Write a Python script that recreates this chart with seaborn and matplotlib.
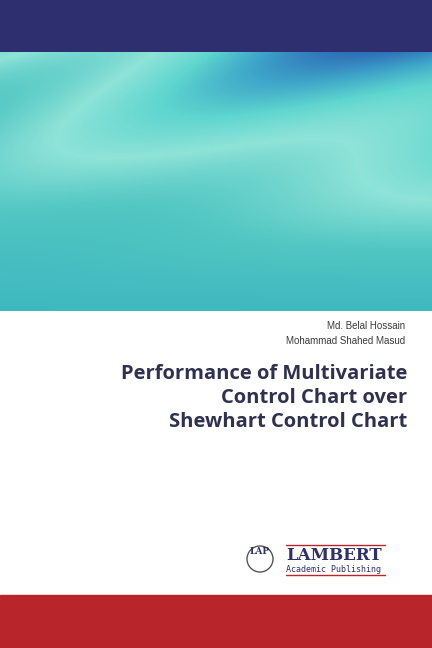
import matplotlib
matplotlib.use('Agg')
import matplotlib.pyplot as plt
import numpy as np
import seaborn as sns
from matplotlib.colors import LinearSegmentedColormap

sns.set_theme(style="white")
plt.rcParams['font.family'] = ['DejaVu Sans']

# cover content
authors = ['Md. Belal Hossain', 'Mohammad Shahed Masud']
title_lines = ['Performance of Multivariate', 'Control Chart over', 'Shewhart Control Chart']
band_colors = {'top': '#2d2f6e', 'bottom': '#b8262b', 'title': '#2e3152'}
water_colors = ['#2f6fb8', '#3fa7c9', '#5fd6cf', '#8fe3d8', '#52c7c3', '#3fb8bf']

fig = plt.figure(figsize=(4.32, 6.48), dpi=100)
ax = fig.add_axes([0, 0, 1, 1])
ax.set_xlim(0, 432)
ax.set_ylim(648, 0)
ax.axis('off')

# bands
ax.add_patch(plt.Rectangle((0, 0), 432, 52, color=band_colors['top']))
ax.add_patch(plt.Rectangle((0, 595), 432, 53, color=band_colors['bottom']))

# water picture
cmap = LinearSegmentedColormap.from_list('water', water_colors)
yy, xx = np.mgrid[0:1:260j, 0:1:432j]
field = 0.55 * yy + 0.25 * (1 - xx) * (1 - yy) + 0.15 * np.sin(6 * xx + 9 * yy) * (1 - yy) ** 2
field = (field - field.min()) / (field.max() - field.min())
ax.imshow(field, cmap=cmap, extent=(0, 432, 311, 52), aspect='auto', zorder=1)

# authors
for i, a in enumerate(authors):
    ax.text(405, 326 + i * 15, a, ha='right', va='center', fontsize=7, color='#3a3a3a',
            family='Liberation Sans')

# title
for i, line in enumerate(title_lines):
    ax.text(407, 374 + i * 24, line, ha='right', va='center', fontsize=14.5,
            fontweight='bold', color=band_colors['title'], family='Open Sans')

# publisher logo
navy = '#2d2f6e'
ax.add_patch(plt.Circle((260, 559), 13, facecolor='white', edgecolor='#555555', lw=1))
ax.text(260, 551, 'LAP', ha='center', va='center', fontsize=6.5, fontweight='bold',
        color=navy, family='DejaVu Serif')
ax.plot([286, 385], [545, 545], color='#b8262b', lw=1)
ax.plot([286, 385], [575, 575], color='#b8262b', lw=1)
ax.text(286, 555, 'LAMBERT', ha='left', va='center', fontsize=12, fontweight='bold',
        color=navy, family='DejaVu Serif')
ax.text(286, 569, 'Academic Publishing', ha='left', va='center', fontsize=6,
        color=navy, family='DejaVu Sans Mono')

fig.savefig('out.png', dpi=100)
